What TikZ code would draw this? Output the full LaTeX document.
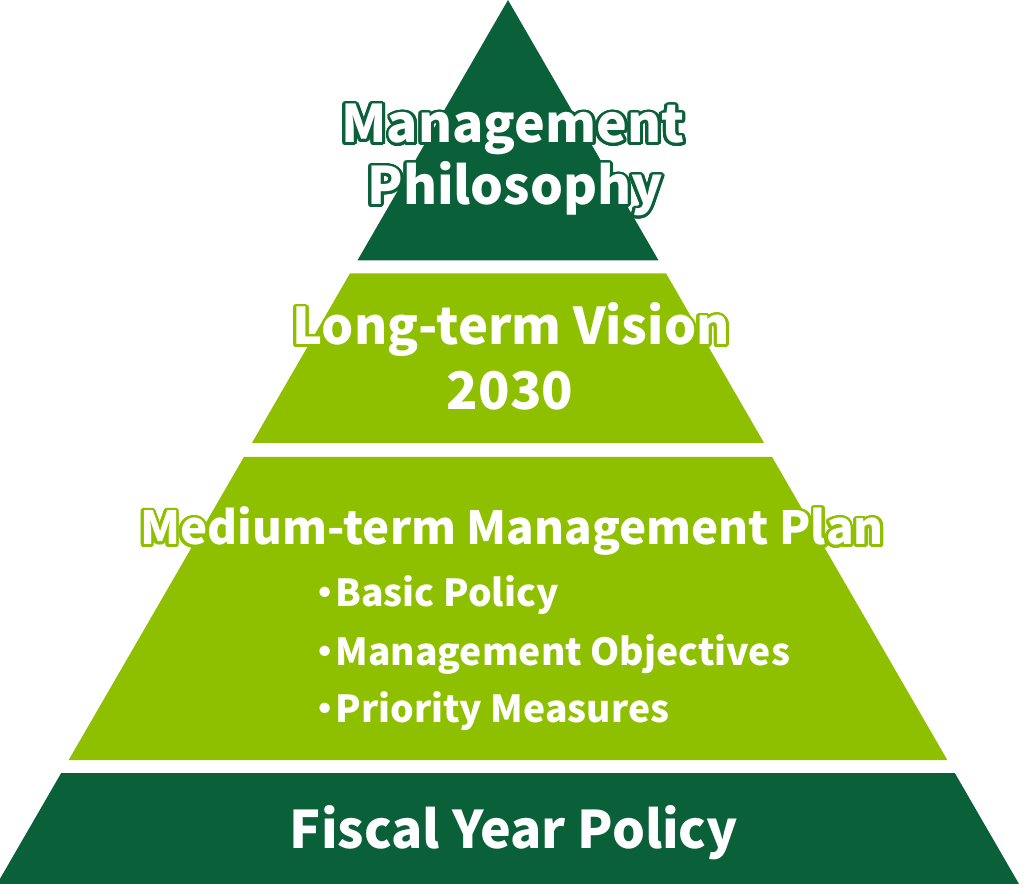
\documentclass[tikz,border=0pt]{standalone}
\usepackage{fontspec}
\setmainfont{Noto Sans CJK JP}
\usepackage{contour}
\contourlength{1.6pt}
\contournumber{32}
\usetikzlibrary{positioning}

\definecolor{dkgreen}{RGB}{10,96,56}
\definecolor{ltgreen}{RGB}{142,192,0}

\tikzset{
  title/.style={text=white, font=\bfseries\fontsize{29.5}{29.5}\selectfont, inner sep=0pt, anchor=base},
  item/.style={text=white, font=\bfseries\fontsize{21.2}{21.2}\selectfont, inner sep=0pt, anchor=base west}
}
\newcommand{\dotitem}{\makebox[12pt][c]{・}}

\begin{document}
\begin{tikzpicture}[x=0.02cm, y=-0.02cm]
\useasboundingbox (0,0) rectangle (1024,884);

% layers of the pyramid
\fill[dkgreen] (508,0) -- (658.6,260.5) -- (357.4,260.5) -- cycle;
\fill[ltgreen] (349.9,273.5) -- (666.1,273.5) -- (764.1,443) -- (251.9,443) -- cycle;
\fill[ltgreen] (243.9,457) -- (772.1,457) -- (947.3,760) -- (68.7,760) -- cycle;
\fill[dkgreen] (61.2,773) -- (954.8,773) -- (1019,884) -- (-3,884) -- cycle;

% top
\node[title] (phil1) at (513,143) {\contour{dkgreen}{Management}};
\node[title] (phil2) at (515,205) {\contour{dkgreen}{Philosophy}};

% vision
\node[title, font=\bfseries\fontsize{28.8}{28.8}\selectfont] (vis1) at (511,345) {\contour{ltgreen}{Long-term Vision}};
\node[title] (vis2) at (510,410) {\contour{ltgreen}{2030}};

% plan
\node[title, font=\bfseries\fontsize{26}{26}\selectfont] (plan) at (512,545) {\contour{ltgreen}{Medium-term Management Plan}};
\node[item] (basic) at (314,606) {\dotitem Basic Policy};
\node[item] (obj) at (314,665) {\dotitem Management Objectives};
\node[item] (prio) at (314,722) {\dotitem Priority Measures};

% bottom
\node[title] (fiscal) at (514,848) {Fiscal Year Policy};
\end{tikzpicture}
\end{document}
